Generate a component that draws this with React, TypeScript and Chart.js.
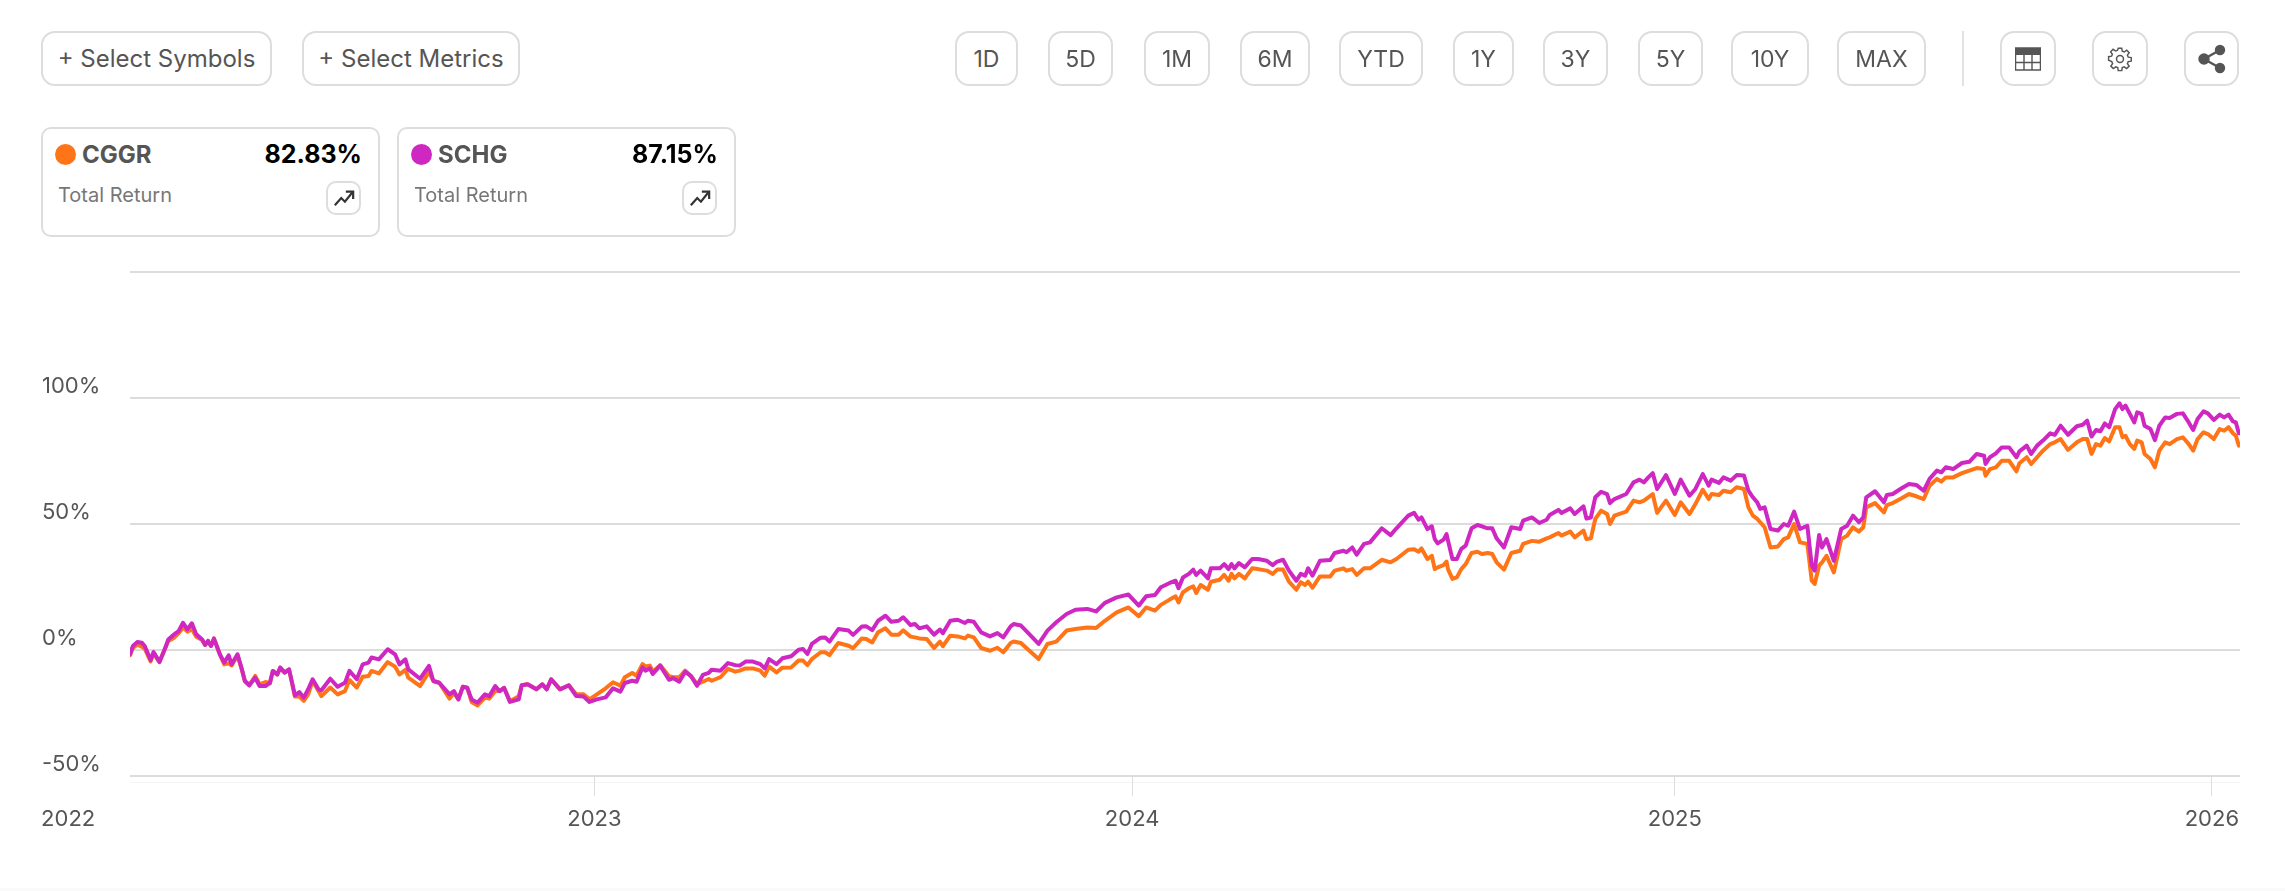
import React, { useEffect, useRef } from "react";
import { Chart, registerables } from "chart.js";

Chart.register(...registerables);

// Days since the first plotted session
const sampleDays = [
  0,2,5,8,10,14,16,20,24,26,30,33,36,39,42,45,49,51,53,55,57,61,64,67,69,73,76,78,81,85,88,92,95,97,100,102,105,108,112,115,118,121,124,128,130,136,141,146,149,154,158,162,164,169,175,180,183,187,189,197,203,206,210,217,220,223,226,229,232,236,241,244,248,251,254,258,264,266,270,276,280,283,286,292,298,303,308,312,317,
  323,328,333,336,341,344,348,350,353,355,360,366,369,373,377,381,385,389,393,395,401,406,411,414,418,423,428,431,434,439,443,449,454,457,460,463,469,472,475,481,488,491,497,500,504,508,513,517,522,525,530,533,536,541,546,550,552,557,562,567,569,573,578,584,589,593,598,
  600,605,610,617,623,629,636,642,650,656,662,670,678,
  685,690,696,700,706,710,712,715,719,722,724,727,732,734,740,743,746,748,750,753,757,762,766,772,776,779,783,787,792,795,798,800,803,808,815,818,824,826,830,833,838,842,850,856,860,868,872,875,
  877,881,884,886,888,892,894,895,898,901,904,907,911,915,918,922,925,928,933,938,944,946,952,957,962,964,970,972,978,981,987,989,992,995,999,1003,1005,1008,1016,1021,1025,1028,1031,1034,1037,1043,1049,1053,1059,1063,1068,1072,
  1074,1079,1082,1087,1091,1096,1099,1102,1105,1107,1110,1114,1119,1123,1126,1130,1134,1139,1142,1144,1147,1149,1152,1157,1162,1166,1170,1174,1177,1179,1185,1191,1193,1197,1203,1208,1213,1218,1222,1227,1230,1233,1238,1244,1249,
  1254,1259,1260,1263,1267,1271,1276,1281,1283,1288,1291,1295,1299,1304,1307,1311,1316,1322,1326,1329,1332,1335,1338,1341,1344,1348,1351,1353,1355,1358,1361,1363,1366,1368,1372,1375,1378,1382,1385,1390,1394,1398,1401,1404,1408,1411,1415,1419,1422,1425,1428,1430,1432,
];

const schgValues = [
  -1.7,1.6,3.2,2.9,1.6,-4,-0.8,-4.8,0.9,4.2,6.2,7.5,10.8,8.2,10.6,6.2,4.2,2,3.6,1.6,4.5,-1.7,-5,-2.1,-5.7,-1.7,-7.7,-12.3,-14,-11,-14.3,-14.3,-13,-8.3,-9.7,-7,-9,-7.7,-18,-16.7,-18.9,-15.6,-11.6,-15.6,-16,-11.4,-14.6,-13,-8.3,-11.6,-5.7,-5,-3,-3.7,0.3,-1.7,-5.7,-3.7,-7.7,-11.4,-6.3,-12.3,-13,-17.6,-16.3,-19.6,-14.6,-15,-19.6,-20.9,-17.6,-18.3,-14.3,-16.3,-15,-20.6,-19.6,-14,-13.6,-15.6,-13.6,-15.6,-11.6,-15.6,-14,-18.3,-18.5,-20.6,-19.6,
  -18.8,-15.2,-16.5,-13.1,-12.2,-12.6,-6.9,-8.2,-7.3,-9.5,-6.2,-11.8,-11.2,-12.6,-8.6,-10.4,-14.2,-9.9,-9.1,-7.8,-8.2,-5.2,-6,-6.2,-4.6,-4.6,-5.6,-7.3,-3.6,-5.6,-3.3,-2.5,0.1,0.4,-1.6,2.4,4.9,5,3.3,8.3,7.7,6,9.3,9.4,7.9,11.6,13.6,11.2,11.6,13,9.9,10.3,8.6,9.4,6.1,8.1,6.7,11.6,12,10.7,11.6,11.2,7,5.4,6.7,5,9.4,
  10.3,9.7,6.7,2.4,7.7,11,14.3,16,16.3,15.3,18.7,20.9,22,
  17.6,21.3,21.8,24.9,26.6,27.5,24.5,28.8,30.2,31.9,29.8,31.5,28.4,32.4,32.4,34.1,32.1,34.1,32.4,34.5,32.8,36.1,36.1,35.4,33.7,35.1,35.8,31.5,27.5,30.2,29.5,32.4,29.5,35.4,35.7,38.5,39.4,38.8,40.7,37.8,42.1,42.7,48.3,45.6,48.3,53.3,54.4,51.7,
  52.6,48,49.1,44,42.3,43.8,46,43.4,36.1,36.1,40.1,41.4,48.3,49.6,49.1,48.3,48.3,44.3,40.7,48.7,48,51.3,52.6,50.4,51.7,53.6,55.6,54.4,56.2,54,57,52.2,52.6,60.6,62.8,61.9,58.3,59.9,61.9,66.5,67.6,66.5,68.5,70.2,63.9,69.4,61.9,67.6,61.2,63.9,69.8,65.2,
  67.6,66.3,68.5,67.2,69.4,69.2,63.2,60.6,58.6,56,56.6,48,47.4,50,49.3,54.9,48,49.3,33.5,31.5,45.6,40.7,44,35.4,48,49.3,53.3,50.7,52.6,60.6,63,58.6,61.5,61.9,64.2,65.9,65.5,63.2,67.9,71.2,70.5,72.5,71.8,74.2,74.7,
  77.8,77.1,73.8,76.5,78,80.4,80.4,76.5,78.8,81.1,77.8,81.1,83.1,86,85.4,89,85.4,88.8,89.4,91,84.7,87.3,86.8,89.9,88.4,95.6,97.9,95.6,97,93.7,90.3,94.3,93.7,89,87.7,83.3,89,92.3,92.1,93.7,93.9,90.3,87.3,91.7,94.7,93.9,91.3,93.4,92.3,93.4,90.7,90.3,86,
];

const cggrValues = [
  -2.1,0.9,2.1,1.3,0.5,-4.5,-1.3,-4.8,0.9,3.6,4.9,6.6,8.9,7.3,8.2,5.3,4,2,3.6,1.6,4.6,-1.7,-5.7,-5.3,-6.1,-2.1,-7.9,-12.3,-14,-10.3,-13.6,-12.7,-13.3,-8.3,-9.7,-7,-9,-7.7,-18.5,-18.5,-20.2,-17.6,-12.3,-16.3,-18.3,-14.9,-17.6,-16.3,-11.9,-14.9,-10.6,-10.3,-8.3,-9.3,-4.8,-6.6,-9.7,-7.9,-11,-14.3,-8.7,-12.3,-13,-19.3,-17,-19.6,-14.6,-15,-20.6,-22,-18.9,-19.3,-16.3,-16.3,-15,-20.3,-18.3,-14,-13.6,-15.6,-13.6,-15.6,-11.6,-15.6,-14,-17.6,-17.6,-19.6,-17.6,
  -15.2,-12.8,-14.2,-10.8,-9.1,-10.2,-5.6,-6.5,-6.2,-8.6,-6,-10.4,-10.8,-10.8,-8.2,-10.4,-13.5,-12.6,-11.5,-12.2,-10.8,-7.5,-8.6,-8.2,-7.3,-7.3,-8.2,-10.2,-6.6,-8.9,-7,-6.9,-4.2,-4.2,-6,-3.6,-0.9,-0.9,-2,2.8,1.7,0.7,4.6,4.4,3,7,8.6,6.1,6.1,7.8,5.3,5,4.6,4.4,0.8,3.3,1.5,5.7,5.4,4.6,5.7,5,0.8,-0.3,0.9,-0.9,2.8,
  3.4,2.8,0.1,-3.6,2.4,3.3,7.7,8.3,8.9,8.7,11.6,14.9,16.9,
  13.4,16.9,15.6,17.9,20,21.3,18.9,22.9,24.5,25.3,22.6,25.8,23.9,27.1,27.9,29.8,27.5,30.2,28.4,30.2,28.4,32.4,32.1,31.5,30.2,31.9,31.9,27.1,23.9,26.9,25.8,27.1,24.7,29.2,29.2,31.5,32.4,31.5,32.1,29.8,32.4,32.4,35.8,34.8,36.1,39.8,40,39,
  40.3,36.1,37.4,32.1,32.8,33.7,35.1,32.1,28.2,28.8,32.1,34.1,38.5,39,38.1,38.5,38.1,34.8,31.9,38.5,39.4,42.1,43.3,43,44.3,44.7,46.4,45.4,47,44.7,47.4,44,44.3,52,55.3,54,50,53.3,54.9,59.3,58.6,59.3,60.6,61.9,54.4,59.3,53.6,58.6,54,57.9,63.6,59.9,
  61.9,61.5,63.2,62.6,64.6,63.9,56.6,53.3,52,50.7,48.7,40.7,41.1,44,44.7,50,42.7,42.1,27.5,26.2,33.5,34.8,37.4,30.8,44,45.4,48.7,47,48.7,56.6,58.3,54.6,57.5,58.3,60.2,61.9,61,59.9,65.2,67.9,66.8,68.5,68.5,70.2,71.2,
  72.2,71.8,69.2,71.8,72.5,75.1,75.1,70.9,74.1,76.5,73.8,76.5,79.1,81.7,82.4,83.7,79.4,82.4,83.7,83.7,77.8,81.7,81.1,84.1,82.8,88.4,88.4,84.4,85,81.7,79.8,83.1,82.4,77.8,75.8,72.5,79.1,82.4,81.7,83.7,84.4,81.7,79.1,83.7,86.4,85.7,83.7,87.7,87,88.4,86,85,81.1,
];

const yearTickDays = [-42, 315.4, 680.5, 1049, 1413.7];
const yearLabels = ["2022", "2023", "2024", "2025", "2026"];
const yTickLabels: Record<string, string> = { "100": "100%", "50": "50%", "0": "0%", "-50": "-50%" };

const symbolButtons = [
  { label: "+ Select Symbols", left: 41, width: 231 },
  { label: "+ Select Metrics", left: 302, width: 218 },
];
const rangeButtons = [
  { label: "1D", left: 955, width: 63 },
  { label: "5D", left: 1048, width: 65 },
  { label: "1M", left: 1144, width: 66 },
  { label: "6M", left: 1240, width: 70 },
  { label: "YTD", left: 1339, width: 84 },
  { label: "1Y", left: 1453, width: 61 },
  { label: "3Y", left: 1543, width: 65 },
  { label: "5Y", left: 1638, width: 65 },
  { label: "10Y", left: 1731, width: 78 },
  { label: "MAX", left: 1837, width: 89 },
];
const cards = [
  { name: "CGGR", value: "82.83%", color: "#ff7417", left: 41 },
  { name: "SCHG", value: "87.15%", color: "#cf27c2", left: 397 },
];

const FONT = "Inter, 'Noto Sans', sans-serif";
const BORDER = "2px solid #dddddd";

function boxStyle(left: number, top: number, width: number, height: number, radius: number, fontSize: number): React.CSSProperties {
  return {
    position: "absolute",
    left,
    top,
    width,
    height,
    boxSizing: "border-box",
    border: BORDER,
    borderRadius: radius,
    background: "#fff",
    display: "flex",
    alignItems: "center",
    justifyContent: "center",
    color: "#555",
    fontSize,
    whiteSpace: "nowrap",
  };
}

function TrendIcon() {
  return (
    <svg width="22" height="22" viewBox="0 0 24 24" fill="none" stroke="#333" strokeWidth="2.4">
      <polyline points="2,20 9,12 13,16 21,6" />
      <polyline points="14,5 22,5 22,13" />
    </svg>
  );
}

function TableIcon() {
  return (
    <svg width="26" height="24" viewBox="0 0 26 24">
      <rect x="0.5" y="1" width="25" height="22" fill="none" stroke="#555" strokeWidth="1.5" />
      <rect x="0.5" y="1" width="25" height="7" fill="#555" />
      <path d="M0.5 15.5H25.5M9 8V23M17 8V23" stroke="#555" strokeWidth="1.4" />
    </svg>
  );
}

function GearIcon() {
  return (
    <svg width="26" height="26" viewBox="0 0 24 24" fill="none" stroke="#555" strokeWidth="1.4">
      <circle cx="12" cy="12" r="3.2" />
      <path d="M10.3 2h3.4l.5 2.9 1.9.8 2.4-1.7 2.4 2.4-1.7 2.4.8 1.9 2.9.5v3.4l-2.9.5-.8 1.9 1.7 2.4-2.4 2.4-2.4-1.7-1.9.8-.5 2.9h-3.4l-.5-2.9-1.9-.8-2.4 1.7-2.4-2.4 1.7-2.4-.8-1.9L0.9 13.700v-3.400l2.900-.5.8-1.900-1.700-2.400 2.400-2.400 2.400 1.700 1.900-.8z" transform="translate(0.6 0.1) scale(0.95)" />
    </svg>
  );
}

function ShareIcon() {
  return (
    <svg width="30" height="30" viewBox="0 0 30 30" fill="#555" stroke="#555" strokeWidth="2.4">
      <path d="M23 6L7 15L23 24" fill="none" />
      <circle cx="23" cy="6" r="4" />
      <circle cx="7" cy="15" r="4.500" />
      <circle cx="23" cy="24" r="4" />
    </svg>
  );
}

export default function App() {
  const canvasRef = useRef<HTMLCanvasElement | null>(null);

  useEffect(() => {
    if (!canvasRef.current) return;
    const toPoints = (values: number[]) => values.map((y, i) => ({ x: sampleDays[i], y }));
    const lineStyle = { borderWidth: 4, pointRadius: 0, tension: 0, borderJoinStyle: "round", borderCapStyle: "round" };
    const chart = new Chart(canvasRef.current, {
      type: "line",
      data: {
        datasets: [
          { label: "SCHG", data: toPoints(schgValues), borderColor: "#cf27c2", backgroundColor: "#cf27c2", order: 1, ...lineStyle },
          { label: "CGGR", data: toPoints(cggrValues), borderColor: "#ff7417", backgroundColor: "#ff7417", order: 2, ...lineStyle },
        ],
      },
      options: {
        responsive: false,
        animation: false,
        devicePixelRatio: 1,
        layout: { padding: { left: 42, right: 45, top: 272, bottom: 0 } },
        plugins: { legend: { display: false }, tooltip: { enabled: false } },
        scales: {
          x: {
            type: "linear",
            min: 0,
            max: 1432.8,
            border: { display: false },
            afterBuildTicks: (axis: any) => {
              axis.ticks = yearTickDays.map((value) => ({ value }));
            },
            afterFit: (axis: any) => {
              axis.height = 115;
            },
            grid: {
              drawOnChartArea: false,
              drawTicks: true,
              tickLength: 20,
              tickWidth: 1,
              tickColor: (ctx: any) => (ctx.index === 0 ? "rgba(0,0,0,0)" : "#dddddd"),
            },
            ticks: {
              autoSkip: false,
              maxRotation: 0,
              padding: 10,
              color: "#555",
              font: { family: FONT, size: 22 },
              callback: (_v: any, i: number) => yearLabels[i],
            },
          },
          y: {
            type: "linear",
            min: -50,
            max: 150,
            border: { display: false },
            afterFit: (axis: any) => {
              axis.width = 88;
            },
            grid: { color: "#dcdcdc", lineWidth: 2, drawTicks: false },
            ticks: {
              stepSize: 50,
              crossAlign: "far",
              padding: 0,
              color: "#555",
              font: { family: FONT, size: 22, lineHeight: 24 / 22 },
              callback: (v: any) => (yTickLabels[String(v)] ? [yTickLabels[String(v)], ""] : ""),
            },
          },
        },
      },
    } as any);
    return () => chart.destroy();
  }, []);

  return (
    <div style={{ position: "absolute", left: 0, top: 0, width: 2285, height: 891, background: "#fff", overflow: "hidden", fontFamily: FONT }}>
      <div style={{ position: "absolute", left: 130, top: 782, width: 2110, height: 1, background: "#f5f5f5" }} />
      <div style={{ position: "absolute", left: 0, top: 888, width: 2285, height: 3, background: "#fafafa" }} />
      <canvas ref={canvasRef} width={2285} height={891} style={{ position: "absolute", left: 0, top: 0, width: 2285, height: 891 }} />

      {symbolButtons.map((b) => (
        <div key={b.label} style={boxStyle(b.left, 31, b.width, 55, 14, 24)}>{b.label}</div>
      ))}
      {rangeButtons.map((b) => (
        <div key={b.label} style={boxStyle(b.left, 31, b.width, 55, 14, 23)}>{b.label}</div>
      ))}
      <div style={{ position: "absolute", left: 1962, top: 31, width: 2, height: 55, background: "#e2e2e2" }} />
      <div style={boxStyle(2000, 31, 56, 55, 14, 22)}><TableIcon /></div>
      <div style={boxStyle(2092, 31, 56, 55, 14, 22)}><GearIcon /></div>
      <div style={boxStyle(2184, 31, 55, 55, 14, 22)}><ShareIcon /></div>

      {cards.map((c) => (
        <div key={c.name} style={{ position: "absolute", left: c.left, top: 127, width: 339, height: 110, boxSizing: "border-box", border: BORDER, borderRadius: 10, background: "#fff" }}>
          <div style={{ position: "absolute", left: 12, top: 15, width: 21, height: 21, borderRadius: "50%", background: c.color }} />
          <div style={{ position: "absolute", left: 39, top: 11, fontSize: 24, lineHeight: "29px", fontWeight: 700, color: "#555" }}>{c.name}</div>
          <div style={{ position: "absolute", right: 16, top: 11, fontSize: 25, lineHeight: "29px", fontWeight: 700, color: "#000" }}>{c.value}</div>
          <div style={{ position: "absolute", left: 15, top: 55, fontSize: 20, lineHeight: "23px", color: "#777" }}>Total Return</div>
          <div style={{ position: "absolute", right: 17, top: 52, width: 35, height: 34, boxSizing: "border-box", border: BORDER, borderRadius: 10, display: "flex", alignItems: "center", justifyContent: "center" }}><TrendIcon /></div>
        </div>
      ))}
    </div>
  );
}
